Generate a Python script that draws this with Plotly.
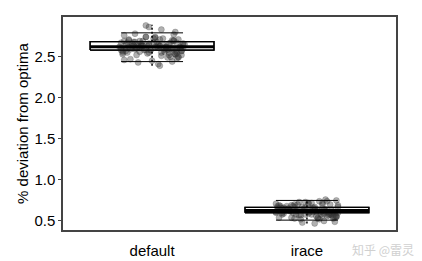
import plotly.graph_objects as go

categories = ["default", "irace"]
q1 = [2.58, 0.600]
median = [2.622, 0.628]
q3 = [2.683, 0.665]
cap_low = [2.44, 0.51]
cap_high = [2.79, 0.75]
ext_low = [2.39, 0.47]
ext_high = [2.89, 0.75]

default_y = [2.62, 2.58, 2.66, 2.71, 2.55, 2.60, 2.64, 2.68, 2.52, 2.59,
             2.63, 2.57, 2.70, 2.74, 2.49, 2.61, 2.65, 2.56, 2.67, 2.53,
             2.60, 2.72, 2.58, 2.62, 2.47, 2.66, 2.69, 2.54, 2.61, 2.64,
             2.59, 2.76, 2.51, 2.63, 2.57, 2.68, 2.62, 2.55, 2.73, 2.60,
             2.65, 2.50, 2.58, 2.67, 2.62, 2.45, 2.70, 2.56, 2.61, 2.64,
             2.59, 2.78, 2.53, 2.66, 2.60, 2.57, 2.71, 2.63, 2.48, 2.62,
             2.69, 2.55, 2.60, 2.65, 2.44, 2.58, 2.74, 2.61, 2.52, 2.67,
             2.88, 2.86, 2.83, 2.41, 2.39, 2.43, 2.77, 2.46, 2.80, 2.63,
             2.64, 2.57, 2.69, 2.61, 2.54, 2.66, 2.59, 2.72, 2.50, 2.63,
             2.60, 2.67, 2.55, 2.62, 2.70, 2.58, 2.65, 2.53, 2.61, 2.68,
             2.56, 2.63, 2.59, 2.71, 2.62, 2.49, 2.66, 2.60, 2.74, 2.57,
             2.64, 2.52, 2.61, 2.69, 2.58, 2.63, 2.55, 2.67, 2.60, 2.62]
default_jit = [-0.15, 0.08, -0.02, 0.17, -0.19, 0.12, -0.07, 0.03, 0.19, -0.11,
               0.05, -0.17, 0.14, -0.04, 0.10, -0.13, 0.20, -0.08, 0.01, 0.15,
               -0.20, 0.07, -0.01, 0.18, -0.14, 0.11, -0.06, 0.16, -0.10, 0.04,
               0.13, -0.18, 0.06, -0.03, 0.19, -0.12, 0.09, -0.16, 0.02, 0.14,
               -0.09, 0.17, -0.05, 0.12, -0.21, 0.00, -0.15, 0.08, 0.18, -0.02,
               0.10, -0.11, 0.15, -0.07, 0.20, -0.19, 0.05, -0.13, 0.16, 0.03,
               -0.08, 0.11, -0.17, 0.07, 0.13, -0.04, 0.02, 0.19, -0.10, -0.20,
               -0.04, -0.02, 0.06, 0.04, 0.05, -0.09, 0.14, -0.18, 0.15, -0.06,
               -0.12, 0.16, -0.18, 0.09, -0.03, 0.20, -0.14, 0.01, 0.12, -0.07,
               0.18, -0.16, 0.06, -0.09, 0.13, -0.01, 0.21, -0.19, 0.04, -0.11,
               0.15, -0.06, 0.10, -0.15, 0.02, 0.17, -0.13, 0.08, -0.04, 0.19,
               -0.17, 0.11, -0.08, 0.14, -0.20, 0.05, -0.02, 0.16, -0.10, 0.09]

irace_y = [0.62, 0.58, 0.66, 0.70, 0.55, 0.63, 0.60, 0.68, 0.53, 0.65,
           0.61, 0.57, 0.72, 0.64, 0.59, 0.67, 0.54, 0.62, 0.69, 0.56,
           0.63, 0.60, 0.73, 0.58, 0.66, 0.61, 0.52, 0.64, 0.71, 0.59,
           0.62, 0.57, 0.68, 0.65, 0.55, 0.60, 0.74, 0.63, 0.58, 0.67,
           0.61, 0.54, 0.64, 0.70, 0.59, 0.62, 0.56, 0.66, 0.60, 0.63,
           0.57, 0.69, 0.61, 0.53, 0.65, 0.62, 0.58, 0.72, 0.64, 0.60,
           0.76, 0.75, 0.48, 0.47, 0.50, 0.49, 0.63, 0.61, 0.67, 0.59,
           0.64, 0.56, 0.70, 0.62, 0.58, 0.66, 0.52, 0.73, 0.60, 0.65,
           0.61, 0.68, 0.55, 0.63, 0.71, 0.59, 0.66, 0.54, 0.62, 0.69,
           0.57, 0.64, 0.60, 0.72, 0.63, 0.53, 0.67, 0.61, 0.74, 0.58,
           0.65, 0.56, 0.62, 0.70, 0.59, 0.64, 0.55, 0.68, 0.61, 0.63]
irace_jit = [0.12, -0.16, 0.04, -0.08, 0.19, -0.02, 0.15, -0.19, 0.07, -0.12,
             0.17, -0.05, 0.10, -0.14, 0.01, 0.20, -0.10, 0.06, -0.18, 0.13,
             -0.07, 0.18, -0.01, 0.09, -0.15, 0.14, -0.04, 0.03, -0.20, 0.11,
             -0.11, 0.16, -0.17, 0.05, 0.19, -0.09, 0.08, -0.13, 0.15, -0.03,
             0.02, -0.18, 0.12, -0.06, 0.18, -0.15, 0.10, -0.01, -0.20, 0.07,
             0.14, -0.10, 0.04, 0.17, -0.16, 0.09, -0.07, 0.01, -0.12, 0.20,
             0.12, 0.19, -0.03, 0.05, 0.11, 0.18, -0.19, 0.13, -0.08, 0.16,
             -0.14, 0.06, 0.15, -0.11, 0.03, -0.17, 0.08, -0.05, 0.17, -0.02,
             0.09, -0.13, 0.18, -0.06, 0.01, 0.14, -0.19, 0.07, -0.10, 0.20,
             -0.04, 0.11, -0.16, 0.03, 0.16, -0.08, 0.05, -0.20, 0.13, -0.01,
             -0.12, 0.19, -0.07, 0.10, -0.15, 0.02, 0.17, -0.09, 0.06, -0.18]

points_y = [default_y, irace_y]
points_jit = [default_jit, irace_jit]

BOX_HALF = 0.4
CAP_HALF = 0.2

fig = go.Figure()

for i, cat in enumerate(categories):
    x0, x1 = i - BOX_HALF, i + BOX_HALF
    fig.add_trace(go.Scatter(x=[x0, x1, x1, x0, x0], y=[q1[i], q1[i], q3[i], q3[i], q1[i]],
                             mode="lines", fill="toself", fillcolor="white",
                             line=dict(color="black", width=1.2), hoverinfo="skip", showlegend=False))

for i, cat in enumerate(categories):
    fig.add_trace(go.Scatter(x=[i + j for j in points_jit[i]], y=points_y[i], mode="markers",
                             marker=dict(size=6, color="rgba(60,60,60,0.4)",
                                         line=dict(width=0.6, color="rgba(40,40,40,0.35)")),
                             showlegend=False, name=cat))

for i, cat in enumerate(categories):
    x0, x1 = i - BOX_HALF, i + BOX_HALF
    fig.add_trace(go.Scatter(x=[x0, x1, x1, x0, x0], y=[q1[i], q1[i], q3[i], q3[i], q1[i]],
                             mode="lines", line=dict(color="black", width=1.3),
                             hoverinfo="skip", showlegend=False))
    fig.add_trace(go.Scatter(x=[x0, x1], y=[median[i], median[i]], mode="lines",
                             line=dict(color="black", width=3), hoverinfo="skip", showlegend=False))
    fig.add_trace(go.Scatter(x=[i, i, None, i, i], y=[ext_low[i], q1[i], None, q3[i], ext_high[i]],
                             mode="lines", line=dict(color="black", width=1.5, dash="2px,2px"),
                             hoverinfo="skip", showlegend=False))
    fig.add_trace(go.Scatter(x=[i - CAP_HALF, i + CAP_HALF, None, i - CAP_HALF, i + CAP_HALF],
                             y=[cap_low[i], cap_low[i], None, cap_high[i], cap_high[i]],
                             mode="lines", line=dict(color="black", width=1),
                             hoverinfo="skip", showlegend=False))

fig.add_annotation(text="知乎 @雷灵", xref="paper", yref="paper", x=1.06, y=-0.04,
                   xanchor="right", yanchor="top", showarrow=False,
                   font=dict(family="Noto Sans CJK SC", size=12, color="#d0d0d0"))

fig.update_layout(
    width=422, height=261,
    margin=dict(l=63, r=26, t=17, b=31, autoexpand=False),
    paper_bgcolor="white", plot_bgcolor="white",
    font=dict(family="Liberation Sans, Arial", size=15, color="black"),
    xaxis=dict(range=[-0.575, 1.575], tickvals=[0, 1], ticktext=categories,
               showgrid=False, zeroline=False, showline=True, mirror=True,
               linecolor="#444", linewidth=1.5, ticks="outside", ticklen=6,
               tickcolor="rgba(0,0,0,0)", tickfont=dict(size=15), automargin=False),
    yaxis=dict(range=[0.39, 2.983], tickvals=[0.5, 1.0, 1.5, 2.0, 2.5],
               ticktext=["0.5", "1.0", "1.5", "2.0", "2.5"],
               showgrid=False, zeroline=False, showline=True, mirror=True,
               linecolor="#444", linewidth=1.5, ticks="outside", ticklen=3,
               tickcolor="#444", tickfont=dict(size=15), automargin=False,
               title=dict(text="% deviation from optima", font=dict(size=15), standoff=2)),
)

fig.write_html("out.html")
